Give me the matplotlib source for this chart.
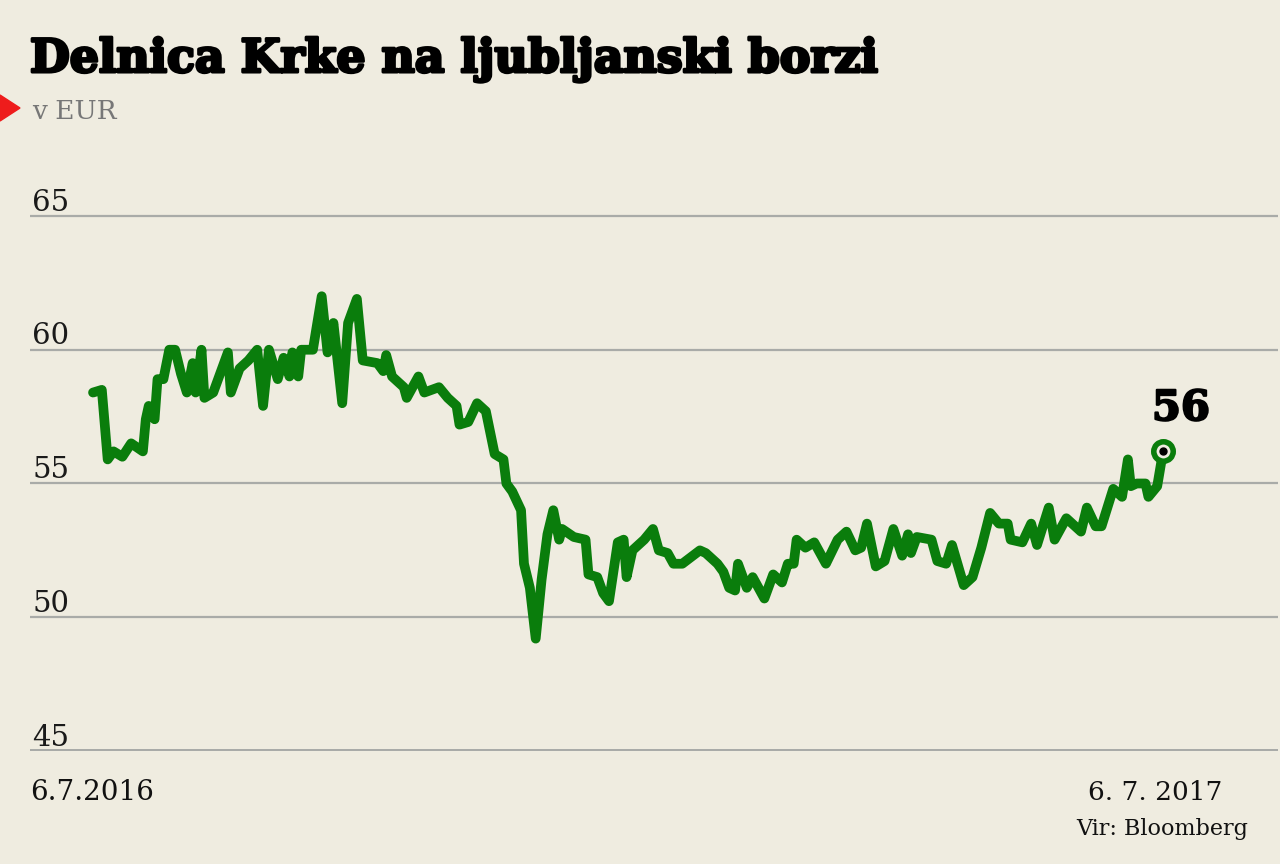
import numpy as np
import matplotlib.pyplot as plt
import matplotlib.patheffects as pe

# days after 6.7.2016 and closing price in EUR
days = [0, 3, 5, 7, 10, 13, 17, 18, 19, 21, 22, 24, 26, 28, 30, 32, 34, 35, 37, 38,
        41, 46, 47, 50, 53, 56, 58, 60, 63, 65, 67, 68, 70, 71, 75, 78, 80, 82, 85, 87,
        90, 92, 97, 99, 100, 102, 106, 107, 111, 113, 118, 121, 124, 125, 128, 131, 134, 137, 140, 141,
        143, 146, 147, 149, 151, 153, 155, 157, 159, 160, 164, 168, 169, 172, 174, 176, 179, 181, 182, 184,
        188, 191, 193, 196, 198, 201, 207, 209, 213, 215, 217, 219, 220, 223, 225, 229, 232, 235, 237, 239,
        240, 243, 246, 250, 254, 257, 260, 262, 264, 267, 270, 273, 276, 278, 279, 281, 286, 288, 291, 293,
        297, 300, 303, 306, 309, 312, 313, 317, 320, 322, 326, 328, 332, 337, 339, 342, 344, 348, 351, 353,
        354, 356, 359, 360, 363, 365]
price = [58.4, 58.5, 55.9, 56.2, 56.0, 56.5, 56.2, 57.4, 57.9, 57.4, 58.9, 58.9, 60.0, 60.0, 59.1, 58.4, 59.5, 58.4, 60.0, 58.2,
         58.4, 59.9, 58.4, 59.3, 59.6, 60.0, 57.9, 60.0, 58.9, 59.7, 59.0, 59.9, 59.0, 60.0, 60.0, 62.0, 59.9, 61.0, 58.0, 61.0,
         61.9, 59.6, 59.5, 59.2, 59.8, 59.0, 58.6, 58.2, 59.0, 58.4, 58.6, 58.2, 57.9, 57.2, 57.3, 58.0, 57.7, 56.1, 55.9, 55.0,
         54.7, 54.0, 52.0, 51.1, 49.2, 51.4, 53.1, 54.0, 52.9, 53.3, 53.0, 52.9, 51.6, 51.5, 50.9, 50.6, 52.8, 52.9, 51.5, 52.5,
         52.9, 53.3, 52.5, 52.4, 52.0, 52.0, 52.5, 52.4, 52.0, 51.7, 51.1, 51.0, 52.0, 51.1, 51.5, 50.7, 51.6, 51.3, 52.0, 52.0,
         52.9, 52.6, 52.8, 52.0, 52.9, 53.2, 52.5, 52.6, 53.5, 51.9, 52.1, 53.3, 52.3, 53.1, 52.4, 53.0, 52.9, 52.1, 52.0, 52.7,
         51.2, 51.5, 52.6, 53.9, 53.5, 53.5, 52.9, 52.8, 53.5, 52.7, 54.1, 52.9, 53.7, 53.2, 54.1, 53.4, 53.4, 54.8, 54.5, 55.9,
         54.9, 55.0, 55.0, 54.5, 54.9, 56.2]

yticks = [45, 50, 55, 60, 65]
date_labels = ['6.7.2016', '6. 7. 2017']
last_label = '56'

bg = '#efece0'
green = '#0a7d0c'
grid_c = '#a9aba8'
serif = 'DejaVu Serif'

fig = plt.figure(figsize=(12.8, 8.64), dpi=100, facecolor=bg)
ax = fig.add_axes([30 / 1280, 113 / 864, 1248 / 1280, 548.4 / 864])
ax.set_facecolor(bg)
ax.set_xlim(-21.5, 404.2)
ax.set_ylim(45, 65.5)

for v in yticks:
    lw = 3.6 if v == 45 else 1.6
    ax.axhline(v, color=grid_c, lw=lw, zorder=1)
    ax.text(0.002, v + 0.2, str(v), transform=ax.get_yaxis_transform(),
            ha='left', va='baseline', fontsize=21, family=serif,
            color='#1a1a1a')

ax.plot(days, price, color=green, lw=7, solid_joinstyle='round',
        solid_capstyle='round', zorder=3)
ax.plot(days[-1], price[-1], 'o', ms=14, mfc=bg, mec=green, mew=4, zorder=4)
ax.plot(days[-1], price[-1], 'o', ms=5, color='black', zorder=5)
ax.annotate(last_label, (days[-1], price[-1]), xytext=(-8, 16),
            textcoords='offset points', ha='left', va='bottom',
            fontsize=30, fontweight='bold', family=serif, color='black',
            path_effects=[pe.withStroke(linewidth=1.5, foreground='black')])

for s in ax.spines.values():
    s.set_visible(False)
ax.set_xticks([])
ax.set_yticks([])

fig.text(30 / 1280, 1 - 800 / 864, date_labels[0], ha='left', va='baseline',
         fontsize=20, family=serif, color='#111111')
fig.text(1222 / 1280, 1 - 800 / 864, date_labels[1], ha='right', va='baseline',
         fontsize=19, family=serif, color='#111111')
fig.text(1248 / 1280, 1 - 829 / 864, 'Vir: Bloomberg', ha='right', va='center',
         fontsize=16, family=serif, color='#111111')

fig.text(30 / 1280, 1 - 72 / 864, 'Delnica Krke na ljubljanski borzi', ha='left',
         va='baseline', fontsize=33, fontweight='heavy', family=serif,
         color='black',
         path_effects=[pe.withStroke(linewidth=2.2, foreground='black')])
fig.text(32 / 1280, 1 - 119 / 864, 'v EUR', ha='left', va='baseline',
         fontsize=19, family=serif, color='#777777')
fig.patches.append(plt.Polygon([[0, 1 - 95 / 864], [20 / 1280, 1 - 108 / 864], [0, 1 - 121 / 864]],
                               closed=True, transform=fig.transFigure, color='#ee1c1c'))

fig.savefig('out.png', dpi=100, facecolor=bg)
